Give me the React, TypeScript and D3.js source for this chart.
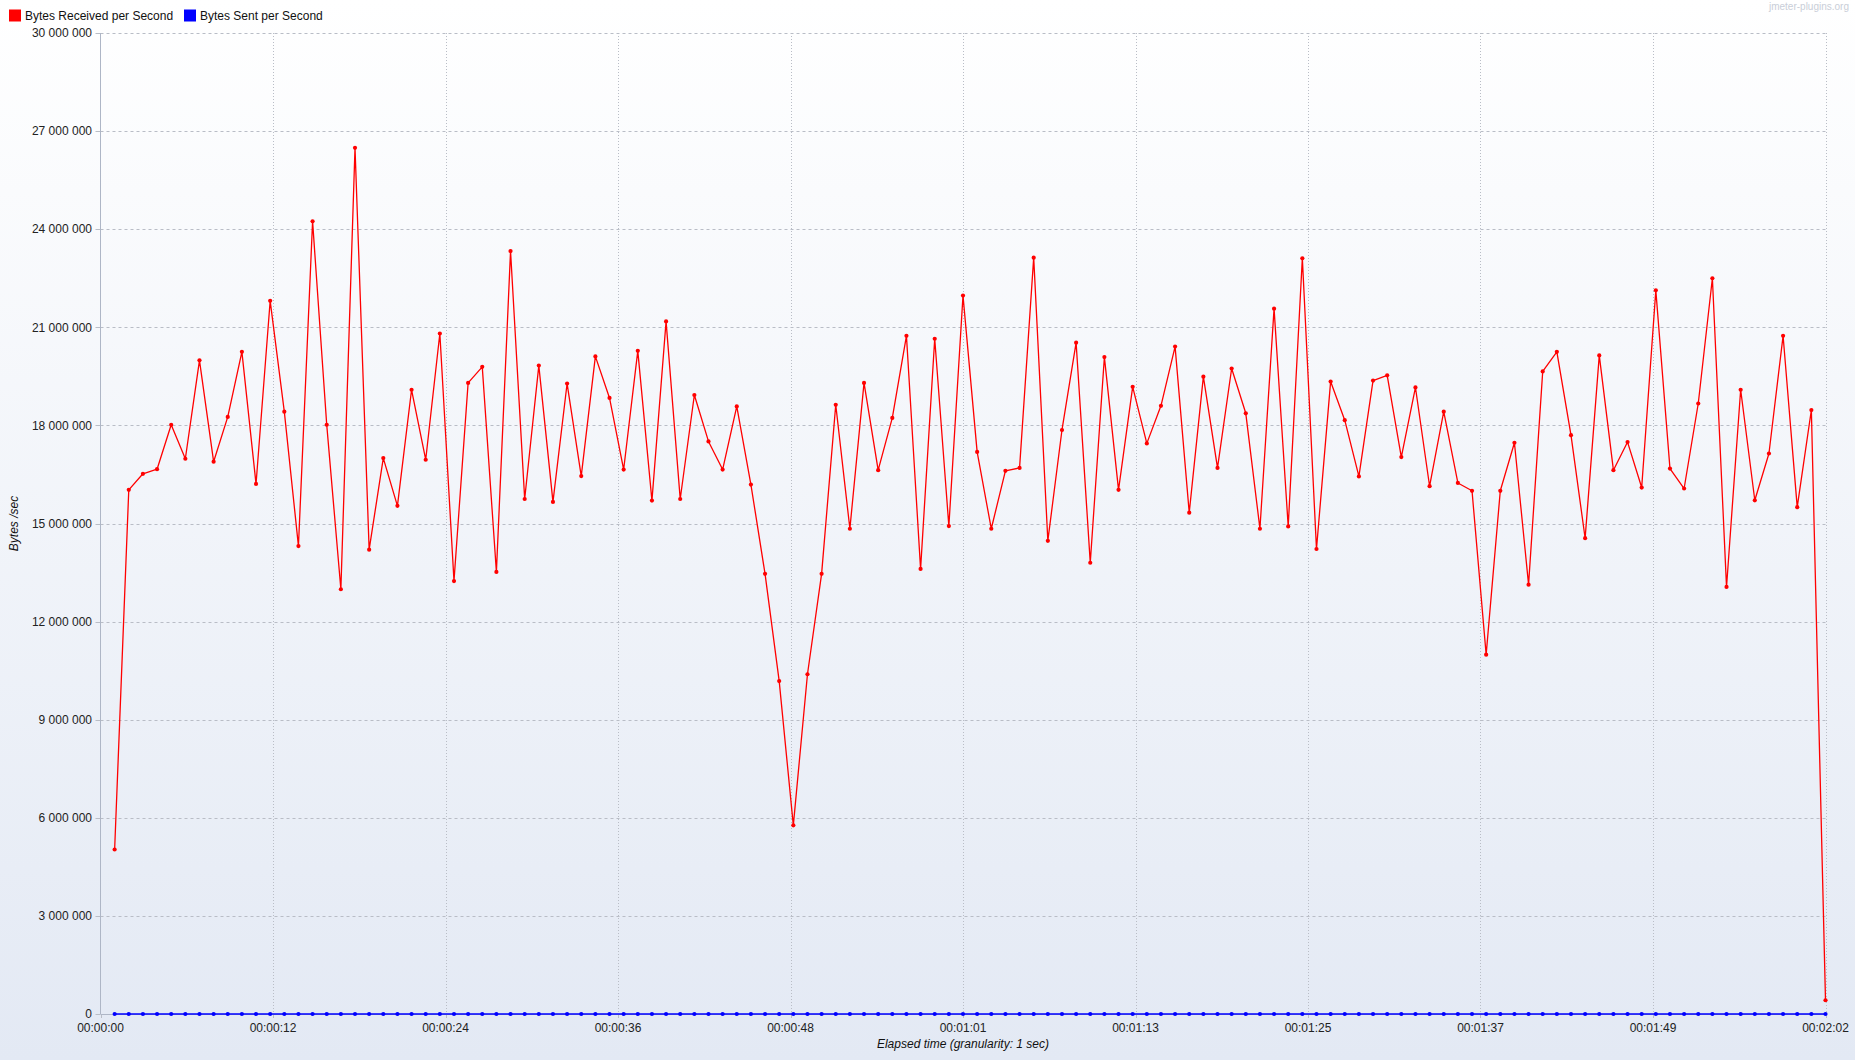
import React from "react";
import * as d3 from "d3";

const seriesNames = ["Bytes Received per Second", "Bytes Sent per Second"];
const seriesColors = ["#ff0000", "#0000ff"];

// values in bytes/sec, one per elapsed second (1..122)
const bytesReceived = [
  5030000, 16030000, 16520000, 16660000, 18020000, 16980000, 19990000, 16890000, 18260000, 20250000,
  16210000, 21810000, 18420000, 14310000, 24240000, 18020000, 12990000, 26490000, 14200000, 17000000,
  15540000, 19090000, 16950000, 20810000, 13240000, 19300000, 19790000, 13520000, 23330000, 15750000,
  19830000, 15660000, 19280000, 16450000, 20110000, 18840000, 16650000, 20280000, 15700000, 21180000,
  15750000, 18930000, 17510000, 16650000, 18580000, 16190000, 13460000, 10180000, 5770000, 10390000,
  13460000, 18630000, 14840000, 19300000, 16630000, 18230000, 20740000, 13610000, 20650000, 14920000,
  21970000, 17190000, 14840000, 16610000, 16700000, 23130000, 14470000, 17860000, 20530000, 13800000,
  20090000, 16030000, 19180000, 17450000, 18600000, 20410000, 15330000, 19490000, 16700000, 19740000,
  18370000, 14840000, 21570000, 14910000, 23110000, 14220000, 19340000, 18160000, 16440000, 19370000,
  19530000, 17030000, 19160000, 16140000, 18420000, 16240000, 16000000, 10990000, 16000000, 17470000,
  13130000, 19650000, 20250000, 17700000, 14550000, 20140000, 16630000, 17490000, 16100000, 22130000,
  16680000, 16070000, 18670000, 22500000, 13060000, 19090000, 15710000, 17140000, 20740000, 15500000,
  18470000, 420000,
];

const bytesSent = [
  0, 0, 0, 0, 0, 0, 0, 0, 0, 0, 0, 0, 0, 0, 0, 0, 0, 0, 0, 0,
  0, 0, 0, 0, 0, 0, 0, 0, 0, 0, 0, 0, 0, 0, 0, 0, 0, 0, 0, 0,
  0, 0, 0, 0, 0, 0, 0, 0, 0, 0, 0, 0, 0, 0, 0, 0, 0, 0, 0, 0,
  0, 0, 0, 0, 0, 0, 0, 0, 0, 0, 0, 0, 0, 0, 0, 0, 0, 0, 0, 0,
  0, 0, 0, 0, 0, 0, 0, 0, 0, 0, 0, 0, 0, 0, 0, 0, 0, 0, 0, 0,
  0, 0, 0, 0, 0, 0, 0, 0, 0, 0, 0, 0, 0, 0, 0, 0, 0, 0, 0, 0,
  0, 0,
];

const yTickValues = [0, 3000000, 6000000, 9000000, 12000000, 15000000, 18000000, 21000000, 24000000, 27000000, 30000000];
const xTickSeconds = [0, 12.2, 24.4, 36.6, 48.8, 61, 73.2, 85.4, 97.6, 109.8, 122];

const W = 1855;
const H = 1060;
const PL = 100.5;
const PR = 1825.5;
const PT = 33;
const PB = 1014;

const FONT = "'Liberation Sans', Arial, Helvetica, sans-serif";

function fmtTime(s: number) {
  const t = Math.floor(s + 1e-6);
  const hh = Math.floor(t / 3600);
  const mm = Math.floor((t % 3600) / 60);
  const ss = t % 60;
  const p = (n: number) => String(n).padStart(2, "0");
  return `${p(hh)}:${p(mm)}:${p(ss)}`;
}

function fmtBytes(v: number) {
  return d3.format(",")(v).replace(/,/g, " ");
}

export default function App() {
  const x = d3.scaleLinear().domain([0, 122]).range([PL, PR]);
  const y = d3.scaleLinear().domain([0, 30000000]).range([PB, PT]);

  const series = [bytesReceived, bytesSent];
  const line = d3
    .line<number>()
    .x((_, i) => x(i + 1))
    .y((d) => y(d));

  return (
    <svg
      width={W}
      height={H}
      style={{ position: "absolute", left: 0, top: 0, display: "block" }}
      fontFamily={FONT}
    >
      <defs>
        <linearGradient id="bg" x1="0" y1="0" x2="0" y2="1">
          <stop offset="0" stopColor="#ffffff" />
          <stop offset="1" stopColor="#e3e9f4" />
        </linearGradient>
      </defs>
      <rect x={0} y={0} width={W} height={H} fill="url(#bg)" />

      {/* watermark */}
      <text x={1849} y={10} fontSize={10} fill="#c9ced8" textAnchor="end">
        jmeter-plugins.org
      </text>

      {/* legend */}
      {seriesNames.map((name, i) => {
        const lx = i === 0 ? 9 : 184;
        return (
          <g key={name}>
            <rect x={lx} y={9.5} width={12} height={12} fill={seriesColors[i]} />
            <text x={lx + 16} y={20} fontSize={12} fill="#111">
              {name}
            </text>
          </g>
        );
      })}

      {/* horizontal grid lines + y ticks */}
      {yTickValues.map((v) => (
        <g key={"y" + v}>
          {v > 0 && (
            <line
              x1={PL}
              x2={PR}
              y1={Math.round(y(v)) + 0.5}
              y2={Math.round(y(v)) + 0.5}
              stroke="#b9bdc6"
              strokeWidth={1}
              strokeDasharray="3,3"
            />
          )}
          <line
            x1={PL - 5}
            x2={PL}
            y1={Math.round(y(v)) + 0.5}
            y2={Math.round(y(v)) + 0.5}
            stroke="#b9bdc6"
            strokeWidth={1}
          />
          <text
            x={92}
            y={y(v)}
            dy="0.35em"
            fontSize={12}
            fill="#222"
            textAnchor="end"
          >
            {fmtBytes(v)}
          </text>
        </g>
      ))}

      {/* vertical grid lines + x ticks */}
      {xTickSeconds.map((s) => (
        <g key={"x" + s}>
          {s > 0 && (
            <line
              x1={Math.round(x(s)) + 0.5}
              x2={Math.round(x(s)) + 0.5}
              y1={PT}
              y2={PB}
              stroke="#b9bdc6"
              strokeWidth={1}
              strokeDasharray="1,2"
            />
          )}
          <line
            x1={Math.round(x(s)) + 0.5}
            x2={Math.round(x(s)) + 0.5}
            y1={PB}
            y2={PB + 4}
            stroke="#b9bdc6"
            strokeWidth={1}
          />
          <text x={x(s)} y={1032} fontSize={12} fill="#222" textAnchor="middle">
            {fmtTime(s)}
          </text>
        </g>
      ))}

      {/* axes */}
      <line x1={PL} x2={PL} y1={PT} y2={PB} stroke="#aeb6c6" strokeWidth={1} />
      <line x1={PL} x2={PR} y1={PB + 0.5} y2={PB + 0.5} stroke="#aeb6c6" strokeWidth={1} />

      {/* axis titles */}
      <text
        transform={`translate(17.5, ${(PT + PB) / 2}) rotate(-90)`}
        fontSize={12}
        fontStyle="italic"
        fill="#111"
        textAnchor="middle"
      >
        Bytes /sec
      </text>
      <text
        x={(PL + PR) / 2}
        y={1048}
        fontSize={12}
        fontStyle="italic"
        fill="#111"
        textAnchor="middle"
      >
        Elapsed time (granularity: 1 sec)
      </text>

      {/* series */}
      {series.map((vals, si) => (
        <g key={"s" + si}>
          <path
            d={line(vals) || ""}
            fill="none"
            stroke={seriesColors[si]}
            strokeWidth={1.3}
            strokeLinejoin="round"
          />
          {vals.map((v, i) => (
            <circle
              key={i}
              cx={x(i + 1)}
              cy={y(v)}
              r={2.1}
              fill={seriesColors[si]}
            />
          ))}
        </g>
      ))}
    </svg>
  );
}
